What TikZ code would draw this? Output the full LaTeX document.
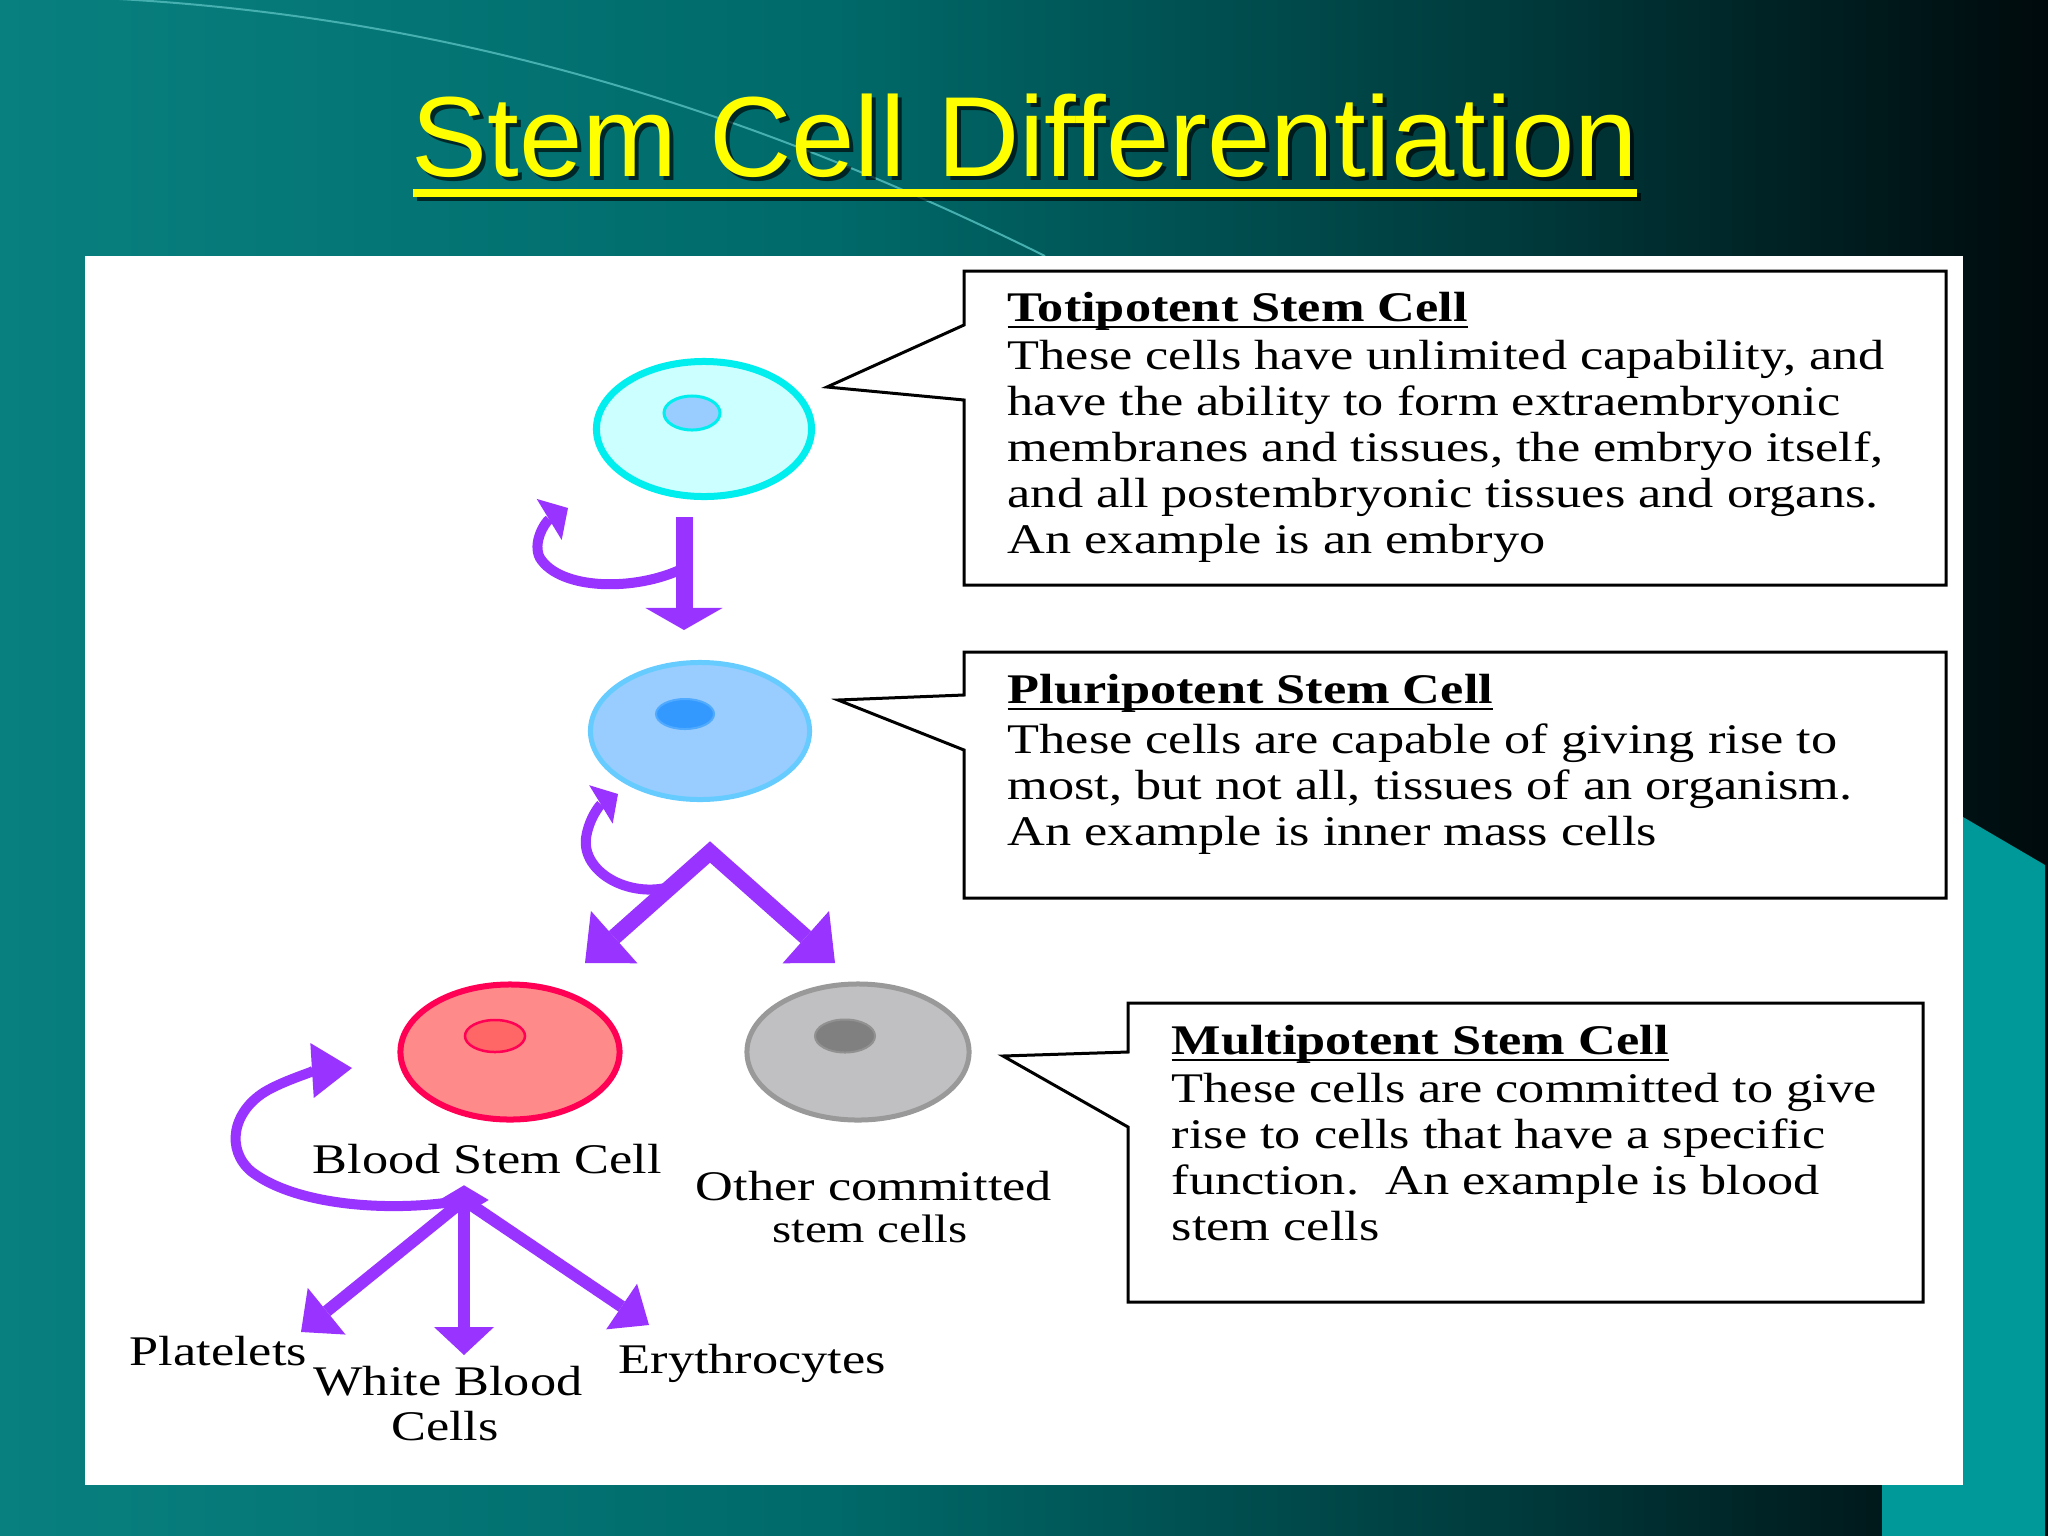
\documentclass[tikz,border=0pt]{standalone}
\usepackage{fontspec}
\usepackage{graphicx}
\setmainfont{Liberation Serif}
\newfontfamily\bmfont[FakeStretch=1.24]{Liberation Serif}
\newfontfamily\ttlfont{Liberation Sans}
\usetikzlibrary{arrows.meta,shapes.geometric}
\definecolor{bgA}{RGB}{8,128,127}
\definecolor{bgB}{RGB}{0,106,106}
\definecolor{bgC}{RGB}{0,58,60}
\definecolor{bgD}{RGB}{0,10,12}
\definecolor{tealR}{RGB}{0,153,153}
\definecolor{arcC}{RGB}{70,175,175}
\definecolor{ttl}{RGB}{255,255,0}
\definecolor{purp}{RGB}{153,51,255}
\definecolor{totiF}{RGB}{204,255,255}
\definecolor{totiD}{RGB}{0,238,238}
\definecolor{totiNF}{RGB}{153,204,255}
\definecolor{pluF}{RGB}{153,204,255}
\definecolor{pluD}{RGB}{102,204,255}
\definecolor{pluNF}{RGB}{51,153,255}
\definecolor{pluND}{RGB}{80,170,255}
\definecolor{bldF}{RGB}{255,138,138}
\definecolor{bldD}{RGB}{255,0,85}
\definecolor{bldNF}{RGB}{255,102,102}
\definecolor{gryF}{RGB}{192,192,194}
\definecolor{gryD}{RGB}{153,153,153}
\definecolor{gryNF}{RGB}{128,128,128}
\pgfdeclarehorizontalshading{bgshade}{100bp}{color(0bp)=(bgA); color(25bp)=(bgA); color(45bp)=(bgB); color(62bp)=(bgC); color(75bp)=(bgD); color(100bp)=(bgD)}
\newcommand\ulx[1]{\setbox0=\hbox{#1}\rlap{\rule[-2pt]{\wd0}{0.6pt}}\box0}
\newcommand\boxlines[1]{\vtop{\baselineskip=0.46cm\lineskiplimit=-20pt\halign{##\hfil\cr#1\crcr}}}
\tikzset{
  dtip/.tip={Triangle[width=7.7mm,length=2.2mm,line width=0pt]},
  vtip/.tip={Triangle[width=7mm,length=3.9mm,line width=0pt]},
  ptip/.tip={Triangle[width=6mm,length=3.3mm,line width=0pt]},
  wtip/.tip={Triangle[width=6mm,length=2.8mm,line width=0pt]},
  etip/.tip={Triangle[width=5.5mm,length=3.3mm,line width=0pt]},
  caatip/.tip={Triangle[width=4.8mm,length=2.2mm,line width=0pt]},
  cbbtip/.tip={Triangle[width=4.5mm,length=2.0mm,line width=0pt]},
  ccctip/.tip={Triangle[width=5.5mm,length=4mm,line width=0pt]},
  cellshape/.style={ellipse, inner sep=0pt},
  callout/.style={draw=black, line width=0.03cm, fill=white, line join=miter},
  boxtitle/.style={anchor=base west, inner sep=0pt, font=\bmfont\bfseries\fontsize{12}{13}\selectfont},
  boxtext/.style={anchor=base west, inner sep=0pt, font=\bmfont\fontsize{12}{13}\selectfont},
  lbl/.style={inner sep=0pt, font=\bmfont\fontsize{12}{13}\selectfont},
  ttlstyle/.style={anchor=base, inner sep=0pt, font=\ttlfont\fontsize{32.4}{38}\selectfont},
  thick arrow/.style={draw=purp, line width=#1, line cap=butt},
  curvearrow/.style={draw=purp, line width=0.1cm, line cap=butt},
}
\begin{document}
\begin{tikzpicture}[x=0.01cm,y=-0.01cm]
\useasboundingbox (0,0) rectangle (2048,1536);
% background
\shade[shading=bgshade] (0,0) rectangle (2048,1536);
\fill[tealR] (1963,817) -- (2045,865) -- (2045,1536) -- (1882,1536) -- (1882,1400) -- (1963,1400) -- cycle;
\draw[arcC, line width=0.02cm] (100,-2) .. controls (450,15) and (750,110) .. (1045,256);
% title
\node[ttlstyle, text=black, opacity=0.65] (titleshadow) at (1029,180) {Stem Cell Differentiation};
\fill[black, opacity=0.65] (417,193) rectangle (1641,201);
\node[ttlstyle, text=ttl] (title) at (1025,176) {Stem Cell Differentiation};
\fill[ttl] (413,189) rectangle (1637,197);
% panel
\fill[white] (85,256) rectangle (1963,1485);
% callouts
\coordinate (p1) at (827,387);
\coordinate (p2) at (838,700);
\coordinate (p3) at (1003,1056);
\draw[callout] (964,271) -| (1946,585) -| (964,400) -- (p1) -- (964,325) -- cycle;
\draw[callout] (964,652) -| (1946,898) -| (964,750) -- (p2) -- (964,695) -- cycle;
\draw[callout] (1128,1003) -| (1923,1302) -| (1128,1127) -- (p3) -- (1128,1052) -- cycle;
% box texts
\node[boxtitle] (h1) at (1007,321) {\ulx{Totipotent Stem Cell}};
\node[boxtext] (b1) at (1007,369) {\boxlines{These cells have unlimited capability, and\cr
have the ability to form extraembryonic\cr
membranes and tissues, the embryo itself,\cr
and all postembryonic tissues and organs.\cr
An example is an embryo}};
\node[boxtitle] (h2) at (1007,703) {\ulx{Pluripotent Stem Cell}};
\node[boxtext] (b2) at (1007,753) {\boxlines{These cells are capable of giving rise to\cr
most, but not all, tissues of an organism.\cr
An example is inner mass cells}};
\node[boxtitle] (h3) at (1171,1054) {\ulx{Multipotent Stem Cell}};
\node[boxtext] (b3) at (1171,1102) {\boxlines{These cells are committed to give\cr
rise to cells that have a specific\cr
function.\ \ An example is blood\cr
stem cells}};
% cells
\node[cellshape, draw=totiD, fill=totiF, line width=0.07cm, minimum width=2.15cm, minimum height=1.35cm] (toti) at (704,429) {};
\node[cellshape, draw=totiD, fill=totiNF, line width=0.03cm, minimum width=0.56cm, minimum height=0.34cm] (totiN) at (692,413) {};
\node[cellshape, draw=pluD, fill=pluF, line width=0.05cm, minimum width=2.19cm, minimum height=1.37cm] (pluri) at (700,731) {};
\node[cellshape, draw=pluND, fill=pluNF, line width=0.02cm, minimum width=0.58cm, minimum height=0.3cm] (pluriN) at (685,714) {};
\node[cellshape, draw=bldD, fill=bldF, line width=0.06cm, minimum width=2.19cm, minimum height=1.35cm] (blood) at (510,1052) {};
\node[cellshape, draw=bldD, fill=bldNF, line width=0.025cm, minimum width=0.6cm, minimum height=0.32cm] (bloodN) at (495,1036) {};
\node[cellshape, draw=gryD, fill=gryF, line width=0.05cm, minimum width=2.22cm, minimum height=1.36cm] (grey) at (858,1052) {};
\node[cellshape, draw=gryD!70!gryNF, fill=gryNF, line width=0.02cm, minimum width=0.6cm, minimum height=0.33cm] (greyN) at (845,1036) {};
% arrows: totipotent -> pluripotent
\coordinate (c1s) at (684,568);
\coordinate (c1e) at (568,508);
\draw[curvearrow, -{caatip}] (c1s) .. controls (635,592) and (560,590) .. (540,558) .. controls (532,543) and (545,522) .. (c1e);
\coordinate (d1s) at (684,517);
\coordinate (d1e) at (684,630);
\draw[thick arrow=0.17cm, -{dtip}] (d1s) -- (d1e);
% pluripotent -> two branches
\coordinate (c2s) at (670,887);
\coordinate (c2e) at (618,794);
\draw[curvearrow, -{cbbtip}] (c2s) .. controls (628,898) and (582,872) .. (586,838) .. controls (589,818) and (600,805) .. (c2e);
\coordinate (vA) at (710,852);
\coordinate (vL) at (585,963);
\coordinate (vR) at (835,963);
\draw[thick arrow=0.16cm, line join=miter, {vtip}-{vtip}] (vL) -- (vA) -- (vR);
% blood stem cell branches
\node[diamond, fill=purp, inner sep=0pt, minimum width=0.5cm, minimum height=0.3cm] (jn) at (464,1200) {};
\coordinate (c3e) at (352,1068);
\draw[curvearrow, -{ccctip}] (jn.center) .. controls (400,1212) and (300,1208) .. (252,1172) .. controls (225,1150) and (232,1110) .. (268,1090) .. controls (290,1078) and (320,1070) .. (c3e);
\coordinate (tPl) at (301,1332);
\coordinate (tWb) at (464,1355);
\coordinate (tEr) at (649,1325);
\draw[thick arrow=0.12cm, -{ptip}] (jn.center) -- (tPl);
\draw[thick arrow=0.12cm, -{wtip}] (jn.center) -- (tWb);
\draw[thick arrow=0.12cm, -{etip}] (jn.center) -- (tEr);
% labels
\node[lbl, anchor=base west] (bsc) at (312,1173) {Blood Stem Cell};
\node[lbl, anchor=base] (oc1) at (874,1200) {Other committed};
\node[lbl, anchor=base, font=\bmfont\fontsize{11.3}{13}\selectfont] (oc2) at (870,1242) {stem cells};
\node[lbl, anchor=base west] (plt) at (129,1365) {Platelets};
\node[lbl, anchor=base] (wbc1) at (448,1395) {White Blood};
\node[lbl, anchor=base] (wbc2) at (445,1440) {Cells};
\node[lbl, anchor=base west] (ery) at (618,1373) {Erythrocytes};
\end{tikzpicture}
\end{document}
